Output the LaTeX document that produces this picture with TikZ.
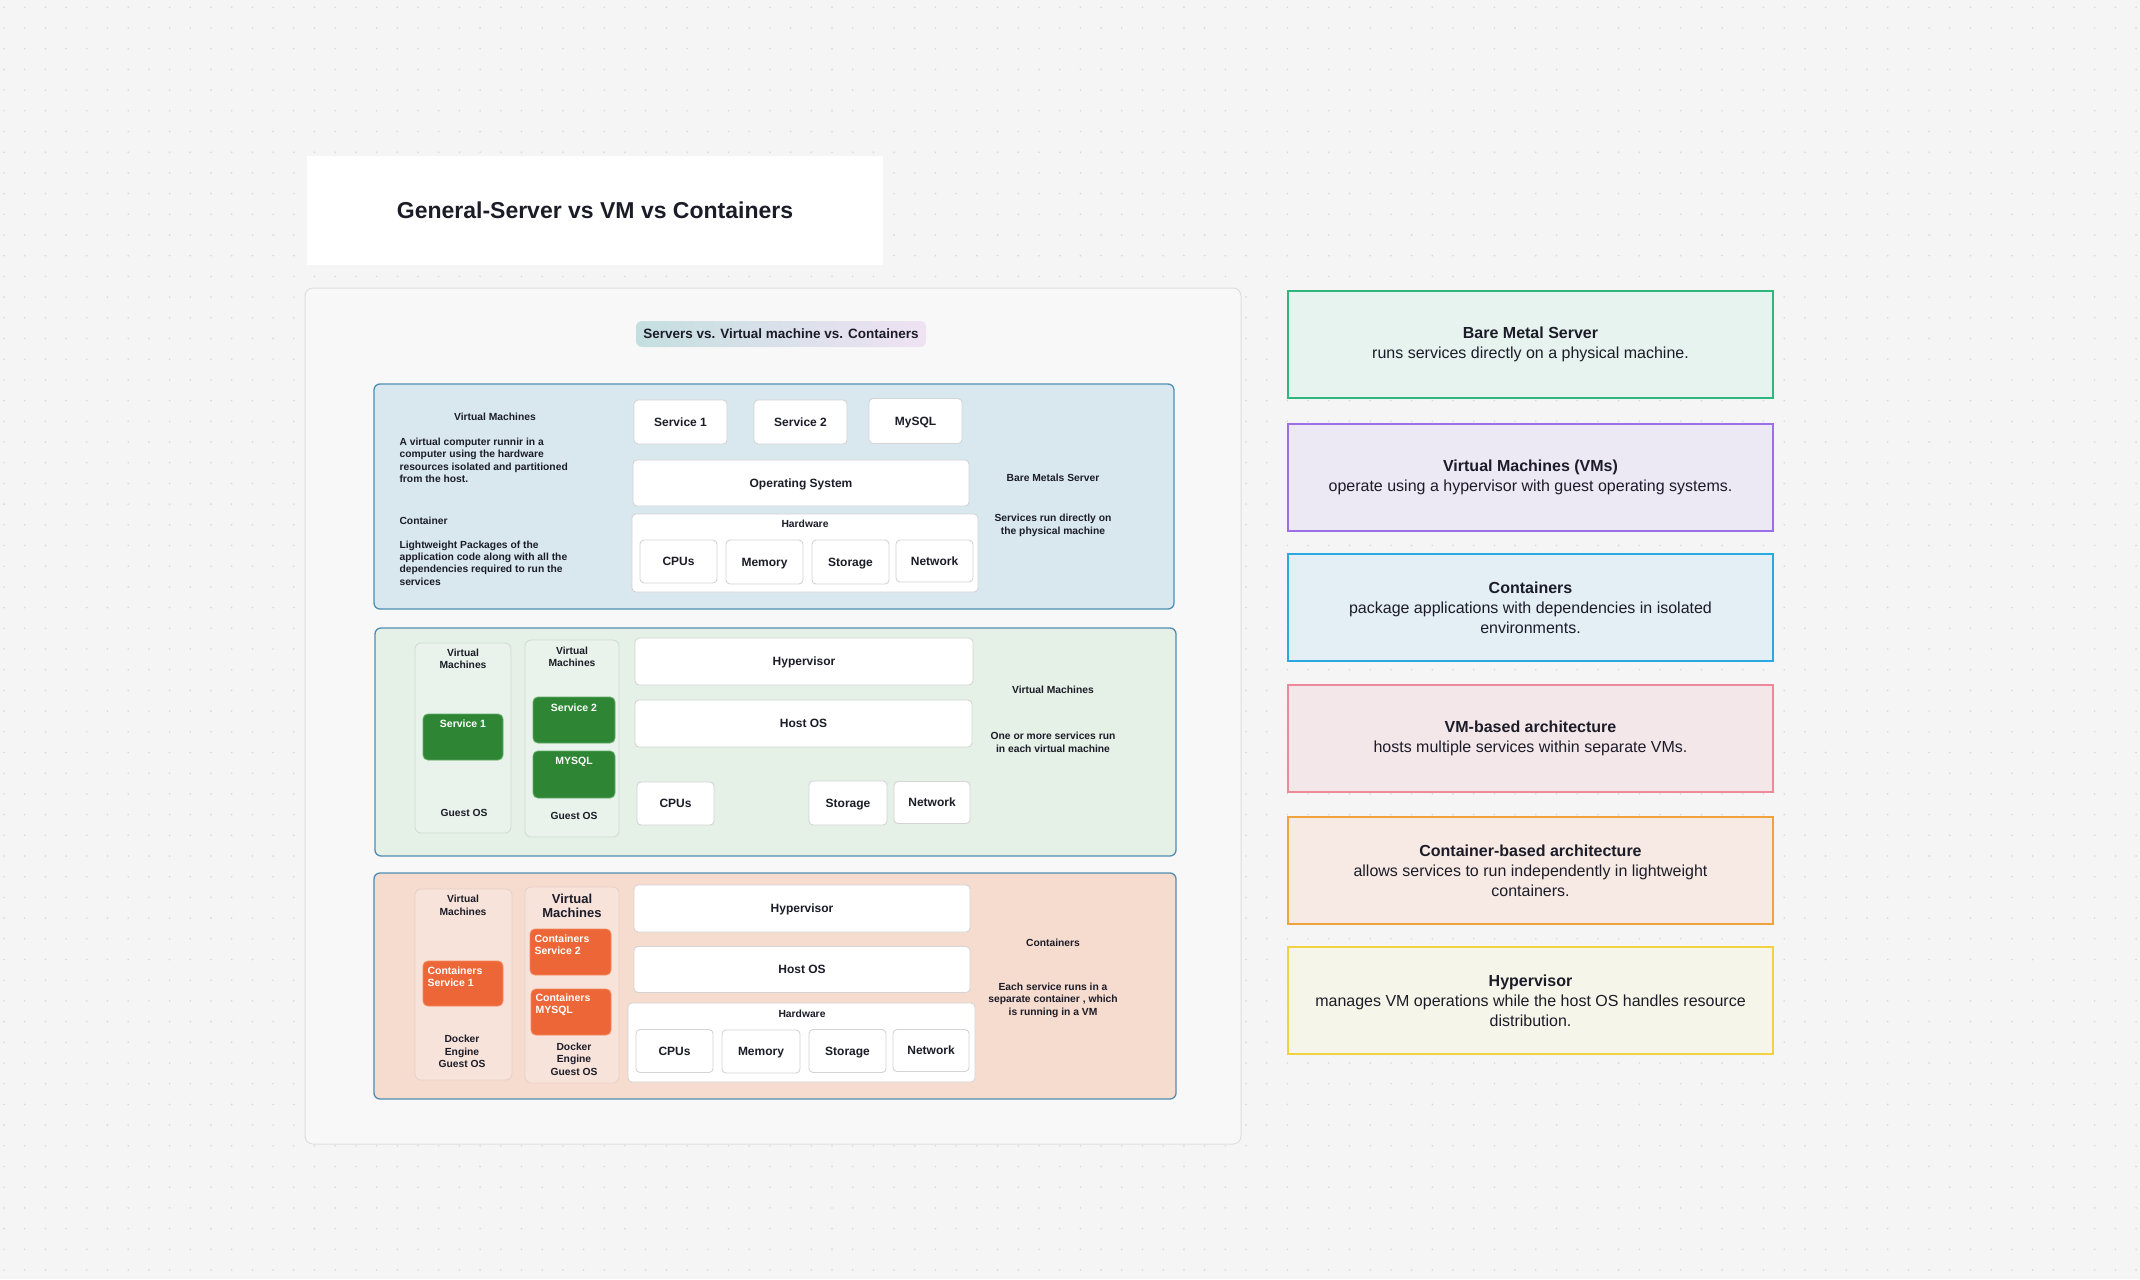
\documentclass[tikz,border=0pt]{standalone}
\usepackage{fontspec}
\setmainfont{Liberation Sans}
\definecolor{bgcol}{HTML}{F5F5F5}
\definecolor{dotcol}{HTML}{D9D9D9}
\definecolor{ink}{HTML}{1C1C28}
\definecolor{boxline}{HTML}{D4D4D4}
\definecolor{panelline}{HTML}{4F8DB3}
\definecolor{mainfill}{HTML}{F8F8F8}
\definecolor{mainline}{HTML}{DEDEDE}
\definecolor{bluefill}{HTML}{D9E8EF}
\definecolor{greenfill}{HTML}{E5F1E7}
\definecolor{orangefill}{HTML}{F6DBCF}
\definecolor{gcolfill}{HTML}{E9F3EB}
\definecolor{gcolline}{HTML}{CFD9D1}
\definecolor{ocolfill}{HTML}{F7E3DA}
\definecolor{ocolline}{HTML}{E8CFC5}
\definecolor{gserv}{HTML}{2E8635}
\definecolor{gservline}{HTML}{62AD66}
\definecolor{oserv}{HTML}{EC6638}
\definecolor{oservline}{HTML}{F28A60}
\definecolor{pillleft}{HTML}{C4DFE0}
\definecolor{pillright}{HTML}{EFE2F3}
\definecolor{bmfill}{HTML}{E6F3EE}
\definecolor{bmline}{HTML}{2FB67C}
\definecolor{vmfill}{HTML}{ECE8F4}
\definecolor{vmline}{HTML}{9B6FE8}
\definecolor{ctfill}{HTML}{E4EFF5}
\definecolor{ctline}{HTML}{2AA9E0}
\definecolor{vbfill}{HTML}{F4E7EA}
\definecolor{vbline}{HTML}{EE8999}
\definecolor{cbfill}{HTML}{F7EAE4}
\definecolor{cbline}{HTML}{F0A33C}
\definecolor{hvfill}{HTML}{F5F5E9}
\definecolor{hvline}{HTML}{F3D242}

\begin{document}
\begin{tikzpicture}[x=1pt,y=-1pt,
        every node/.style={text=ink},
        wbox/.style={draw=boxline,fill=white,rounded corners=4pt,line width=0.9pt,text height=8.6pt,text depth=0pt,font=\bfseries\fontsize{12}{14}\selectfont},
        panel/.style={draw=panelline,rounded corners=6pt,line width=1.3pt},
        vmcol/.style={rounded corners=6pt,line width=0.8pt},
        lbl/.style={font=\bfseries\fontsize{10.3}{12.4}\selectfont,align=center},
        note/.style={font=\bfseries\fontsize{10.3}{12.4}\selectfont,align=left,anchor=west},
        svc/.style={rounded corners=5pt,line width=0.9pt},
        svctxt/.style={text=white,font=\bfseries\fontsize{10.5}{12.4}\selectfont,align=left},
        card/.style={line width=2pt,minimum width=485pt,minimum height=107pt,align=center,font=\fontsize{16}{20}\selectfont}]
    \useasboundingbox (0,0) rectangle (2140,1279);
    \fill[bgcol] (0,0) rectangle (2140,1279);
    % dotted canvas
    \foreach \i in {0,...,103}{
        \foreach \j in {0,...,61}{
            \fill[dotcol] (4+20.7*\i,7.3+20.7*\j) circle (0.9);
        }
    }

    % title and main board
    \node[fill=white,minimum width=576pt,minimum height=109pt,font=\bfseries\fontsize{23}{26}\selectfont] (title) at (595,210) {General-Server vs VM vs Containers};
    \node[draw=mainline,fill=mainfill,rounded corners=8pt,line width=1pt,minimum width=936pt,minimum height=856pt] (board) at (773,716) {};
    \node[left color=pillleft,right color=pillright,rounded corners=6pt,minimum width=290pt,minimum height=26pt,font=\bfseries\fontsize{13.5}{15}\selectfont] (pill) at (781,334) {Servers vs. Virtual machine vs. Containers};

    % bare metal
    \node[panel,fill=bluefill,minimum width=800pt,minimum height=225pt] (bare) at (774,496.5) {};
    \node[wbox,minimum width=93pt,minimum height=44pt] (bsvc1) at (680.5,422) {Service 1};
    \node[wbox,minimum width=93pt,minimum height=44pt] (bsvc2) at (800.5,422) {Service 2};
    \node[wbox,minimum width=93pt,minimum height=45pt] (bsql) at (915.5,421) {MySQL};
    \node[wbox,minimum width=336pt,minimum height=46pt] (bos) at (801,483) {Operating System};
    \node[wbox,minimum width=346pt,minimum height=78pt] (bhw) at (805,553) {};
    \node[lbl] (bhwt) at (805,524) {Hardware};
    \node[wbox,minimum width=77pt,minimum height=43pt] (bcpu) at (678.5,561.5) {CPUs};
    \node[wbox,minimum width=77pt,minimum height=44pt] (bmem) at (764.5,562) {Memory};
    \node[wbox,minimum width=77pt,minimum height=44pt] (bsto) at (850.5,562) {Storage};
    \node[wbox,minimum width=77pt,minimum height=42pt] (bnet) at (934.5,561) {Network};
    \node[lbl] (bvm) at (495,417) {Virtual Machines};
    \node[note] (bvmd) at (396,460.5) {A virtual computer runnir in a\\computer using the hardware\\resources isolated and partitioned\\from the host.};
    \node[note] (bct) at (396,521) {Container};
    \node[note] (bctd) at (396,563) {Lightweight Packages of the\\application code along with all the\\dependencies required to run the\\services};
    \node[lbl] (bname) at (1053,478) {Bare Metals Server};
    \node[lbl] (bdesc) at (1053,525.5) {Services run directly on\\the physical machine};

    % virtual machines
    \node[panel,fill=greenfill,minimum width=801pt,minimum height=228pt] (virt) at (775.5,742) {};
    \node[vmcol,draw=gcolline,fill=gcolfill,minimum width=96pt,minimum height=190pt] (vcol1) at (463,738) {};
    \node[vmcol,draw=gcolline,fill=gcolfill,minimum width=94pt,minimum height=197pt] (vcol2) at (572,738.5) {};
    \node[lbl] (vcol1t) at (463,659) {Virtual\\Machines};
    \node[lbl] (vcol2t) at (572,657) {Virtual\\Machines};
    \node[svc,draw=gservline,fill=gserv,minimum width=80pt,minimum height=46pt] (vsvc1) at (463,737) {};
    \node[svctxt] (vsvc1t) at (463,724) {Service 1};
    \node[svc,draw=gservline,fill=gserv,minimum width=82pt,minimum height=46pt] (vsvc2) at (574,720) {};
    \node[svctxt] (vsvc2t) at (574,708) {Service 2};
    \node[svc,draw=gservline,fill=gserv,minimum width=82pt,minimum height=47pt] (vsql) at (574,774.5) {};
    \node[svctxt] (vsqlt) at (574,762) {MYSQL};
    \node[lbl] (vgos1) at (464,813) {Guest OS};
    \node[lbl] (vgos2) at (574,816) {Guest OS};
    \node[wbox,minimum width=338pt,minimum height=47pt] (vhyp) at (804,661.5) {Hypervisor};
    \node[wbox,minimum width=337pt,minimum height=47pt] (vhost) at (803.5,723.5) {Host OS};
    \node[wbox,minimum width=77pt,minimum height=43pt] (vcpu) at (675.5,803.5) {CPUs};
    \node[wbox,minimum width=78pt,minimum height=44pt] (vsto) at (848,803) {Storage};
    \node[wbox,minimum width=76pt,minimum height=42pt] (vnet) at (932,802.5) {Network};
    \node[lbl] (vname) at (1053,690) {Virtual Machines};
    \node[lbl] (vdesc) at (1053,742.5) {One or more services run\\in each virtual machine};

    % containers
    \node[panel,fill=orangefill,minimum width=802pt,minimum height=226pt] (cont) at (775,986) {};
    \node[vmcol,draw=ocolline,fill=ocolfill,minimum width=97pt,minimum height=191pt] (ccol1) at (463.5,984.5) {};
    \node[vmcol,draw=ocolline,fill=ocolfill,minimum width=94pt,minimum height=196pt] (ccol2) at (572,985) {};
    \node[lbl] (ccol1t) at (463,905.5) {Virtual\\Machines};
    \node[lbl,font=\bfseries\fontsize{13}{14}\selectfont] (ccol2t) at (572,906) {Virtual\\Machines};
    \node[svc,draw=oservline,fill=oserv,minimum width=80pt,minimum height=45pt] (csvc1) at (463,983.5) {};
    \node[svctxt,anchor=west] (csvc1t) at (424,976.5) {Containers\\Service 1};
    \node[svc,draw=oservline,fill=oserv,minimum width=81pt,minimum height=46pt] (csvc2) at (570.5,952) {};
    \node[svctxt,anchor=west] (csvc2t) at (531,945) {Containers\\Service 2};
    \node[svc,draw=oservline,fill=oserv,minimum width=80pt,minimum height=46pt] (csql) at (571,1012) {};
    \node[svctxt,anchor=west] (csqlt) at (532,1005) {Containers\\MYSQL};
    \node[lbl] (ceng1) at (462,1051.5) {Docker\\Engine\\Guest OS};
    \node[lbl] (ceng2) at (574,1059) {Docker\\Engine\\Guest OS};
    \node[wbox,minimum width=336pt,minimum height=47pt] (chyp) at (802,908.5) {Hypervisor};
    \node[wbox,minimum width=336pt,minimum height=46pt] (chost) at (802,969.5) {Host OS};
    \node[wbox,minimum width=347pt,minimum height=79pt] (chw) at (801.5,1042.5) {};
    \node[lbl] (chwt) at (802,1014) {Hardware};
    \node[wbox,minimum width=77pt,minimum height=43pt] (ccpu) at (674.5,1051) {CPUs};
    \node[wbox,minimum width=78pt,minimum height=43pt] (cmem) at (761,1051.5) {Memory};
    \node[wbox,minimum width=77pt,minimum height=43pt] (csto) at (847.5,1051) {Storage};
    \node[wbox,minimum width=76pt,minimum height=42pt] (cnet) at (931,1050.5) {Network};
    \node[lbl] (cname) at (1053,943) {Containers};
    \node[lbl] (cdesc) at (1053,1000) {Each service runs in a\\separate container , which\\is running in a VM};

    % legend cards
    \node[card,draw=bmline,fill=bmfill] (kbm) at (1530.5,344.5) {\textbf{Bare Metal Server}\\runs services directly on a physical machine.};
    \node[card,draw=vmline,fill=vmfill] (kvm) at (1530.5,477.5) {\textbf{Virtual Machines (VMs)}\\operate using a hypervisor with guest operating systems.};
    \node[card,draw=ctline,fill=ctfill] (kct) at (1530.5,607.5) {\textbf{Containers}\\package applications with dependencies in isolated\\environments.};
    \node[card,draw=vbline,fill=vbfill] (kvb) at (1530.5,738.5) {\textbf{VM-based architecture}\\hosts multiple services within separate VMs.};
    \node[card,draw=cbline,fill=cbfill] (kcb) at (1530.5,870.5) {\textbf{Container-based architecture}\\allows services to run independently in lightweight\\containers.};
    \node[card,draw=hvline,fill=hvfill] (khv) at (1530.5,1000.5) {\textbf{Hypervisor}\\manages VM operations while the host OS handles resource\\distribution.};
\end{tikzpicture}
\end{document}
